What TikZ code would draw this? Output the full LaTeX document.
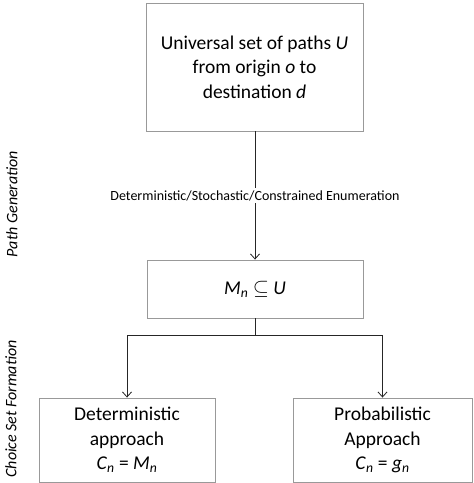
\documentclass[tikz,border=0pt]{standalone}
\usepackage{fontspec}
\setmainfont{Carlito}
\usetikzlibrary{arrows.meta}
\begin{document}
\begin{tikzpicture}[x=1pt,y=-1pt,
  box/.style={draw=black!40, line width=0.9pt, rectangle, align=center, inner sep=0pt},
  conn/.style={draw=black!85, line width=0.8pt, -{Straight Barb[length=5pt,width=9pt]}},
  side/.style={rotate=90, font=\fontsize{16}{19}\selectfont\itshape}]
\useasboundingbox (0,0) rectangle (474,483);
\node[box, minimum width=217pt, minimum height=128pt, font=\fontsize{19.5}{24.5}\selectfont] (top) at (254.5,67)
  {Universal set of paths \textit{U}\\ from origin \textit{o} to\\ destination \textit{d}};
\node[box, minimum width=216pt, minimum height=58pt, font=\fontsize{19.5}{24}\selectfont] (mid) at (255,289)
  {\textit{M}\textsubscript{\textit{n}} $\subseteq$ \textit{U}};
\node[box, minimum width=176pt, minimum height=84pt, font=\fontsize{19.5}{24.5}\selectfont] (left) at (127,440)
  {Deterministic\\ approach\\ \textit{C}\textsubscript{\textit{n}} = \textit{M}\textsubscript{\textit{n}}};
\node[box, minimum width=179pt, minimum height=84pt, font=\fontsize{19.5}{24.5}\selectfont] (right) at (382.5,440)
  {Probabilistic\\ Approach\\ \textit{C}\textsubscript{\textit{n}} = \textit{g}\textsubscript{\textit{n}}};
\draw[conn] (top.south -| mid.north) -- node[pos=0.5, fill=white, inner sep=2pt, font=\fontsize{14}{16}\selectfont] (lab) {Deterministic/Stochastic/Constrained Enumeration} (mid.north);
\draw[draw=black!85, line width=0.8pt] (mid.south) -- ++(0,17) coordinate (br);
\draw[conn] (br) -| (left.north);
\draw[conn] (br) -| (right.north);
\node[side] (pg) at (12,204) {Path Generation};
\node[side] (cs) at (11,409) {Choice Set Formation};
\end{tikzpicture}
\end{document}
